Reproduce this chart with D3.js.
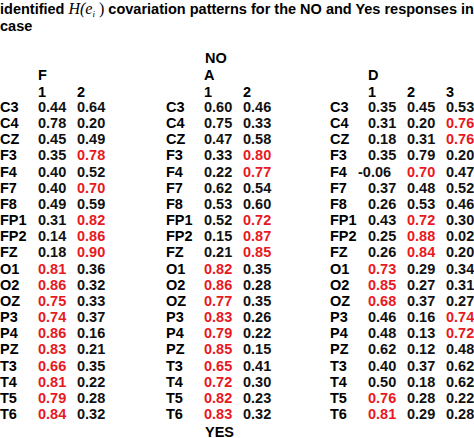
<!DOCTYPE html><html><head><meta charset="utf-8">
<script src="https://cdn.jsdelivr.net/npm/d3@7"></script>
<style>body{margin:0;background:#fff}text{font-family:"Liberation Sans",Arial,sans-serif;font-weight:bold;font-size:14.5px}</style>
</head><body><svg id="c" width="474" height="438"></svg>
<script>
const channels=["C3","C4","CZ","F3","F4","F7","F8","FP1","FP2","FZ","O1","O2","OZ","P3","P4","PZ","T3","T4","T5","T6"];
const F1=[0.44,0.78,0.45,0.35,0.40,0.40,0.49,0.31,0.14,0.18,0.81,0.86,0.75,0.74,0.86,0.83,0.66,0.81,0.79,0.84];
const F2=[0.64,0.20,0.49,0.78,0.52,0.70,0.59,0.82,0.86,0.90,0.36,0.32,0.33,0.37,0.16,0.21,0.35,0.22,0.28,0.32];
const A1=[0.60,0.75,0.47,0.33,0.22,0.62,0.53,0.52,0.15,0.21,0.82,0.86,0.77,0.83,0.79,0.85,0.65,0.72,0.82,0.83];
const A2=[0.46,0.33,0.58,0.80,0.77,0.54,0.60,0.72,0.87,0.85,0.35,0.28,0.35,0.26,0.22,0.15,0.41,0.30,0.23,0.32];
const D1=[0.35,0.31,0.18,0.35,-0.06,0.37,0.26,0.43,0.25,0.26,0.73,0.85,0.68,0.46,0.48,0.62,0.40,0.50,0.76,0.81];
const D2=[0.45,0.20,0.31,0.79,0.70,0.48,0.53,0.72,0.88,0.84,0.29,0.27,0.37,0.16,0.13,0.12,0.37,0.18,0.28,0.29];
const D3=[0.53,0.76,0.76,0.20,0.47,0.52,0.46,0.30,0.02,0.20,0.34,0.31,0.27,0.74,0.72,0.48,0.62,0.62,0.22,0.28];
// highlighted (red) cells, by row index
const F1red=[10,11,12,13,14,15,16,17,18,19], F2red=[3,5,7,8,9];
const A1red=[10,11,12,13,14,15,16,17,18,19], A2red=[3,4,7,8,9];
const D1red=[10,11,12,18,19], D2red=[4,7,8,9], D3red=[1,2,13,14];
const groups=[{name:"F",x:0,cols:[[F1,F1red],[F2,F2red]]},{name:"A",x:166,cols:[[A1,A1red],[A2,A2red]]},{name:"D",x:330,cols:[[D1,D1red],[D2,D2red],[D3,D3red]]}];
const svg=d3.select("#c");
const y=d3.scalePoint().domain(channels).range([112,419]);
const t=svg.append("text").attr("x",0).attr("y",14);
t.append("tspan").text("identified  ");
t.append("tspan").attr("style","font-family:'Liberation Serif',serif;font-style:italic;font-weight:normal;font-size:16px").text("H(e");
t.append("tspan").attr("style","font-family:'Liberation Serif',serif;font-style:italic;font-weight:normal;font-size:9px").attr("dy",3).text("i");
t.append("tspan").attr("style","font-family:'Liberation Serif',serif;font-weight:normal;font-size:16px").attr("dy",-3).text(" )");
t.append("tspan").text("  covariation patterns for the NO and Yes responses in the PD");
svg.append("text").attr("x",0).attr("y",31).text("case");
svg.append("text").attr("x",205).attr("y",63).text("NO");
svg.append("text").attr("x",205).attr("y",437).text("YES");
groups.forEach(g=>{
  const cx=d3.scaleLinear().domain([0,1]).range([g.x+38,g.x+77]);
  svg.append("text").attr("x",cx(0)).attr("y",80).text(g.name);
  g.cols.forEach((c,j)=>{
    svg.append("text").attr("x",cx(j)).attr("y",97).text(j+1);
    svg.selectAll(null).data(c[0]).join("text")
      .attr("x",d=>cx(j)-(d<0?10:0)).attr("y",(d,i)=>y(channels[i]))
      .attr("fill",(d,i)=>c[1].includes(i)?"#e8191e":"#111")
      .text(d=>d.toFixed(2));
  });
  svg.selectAll(null).data(channels).join("text").attr("x",g.x).attr("y",d=>y(d)).text(d=>d);
});
</script></body></html>
